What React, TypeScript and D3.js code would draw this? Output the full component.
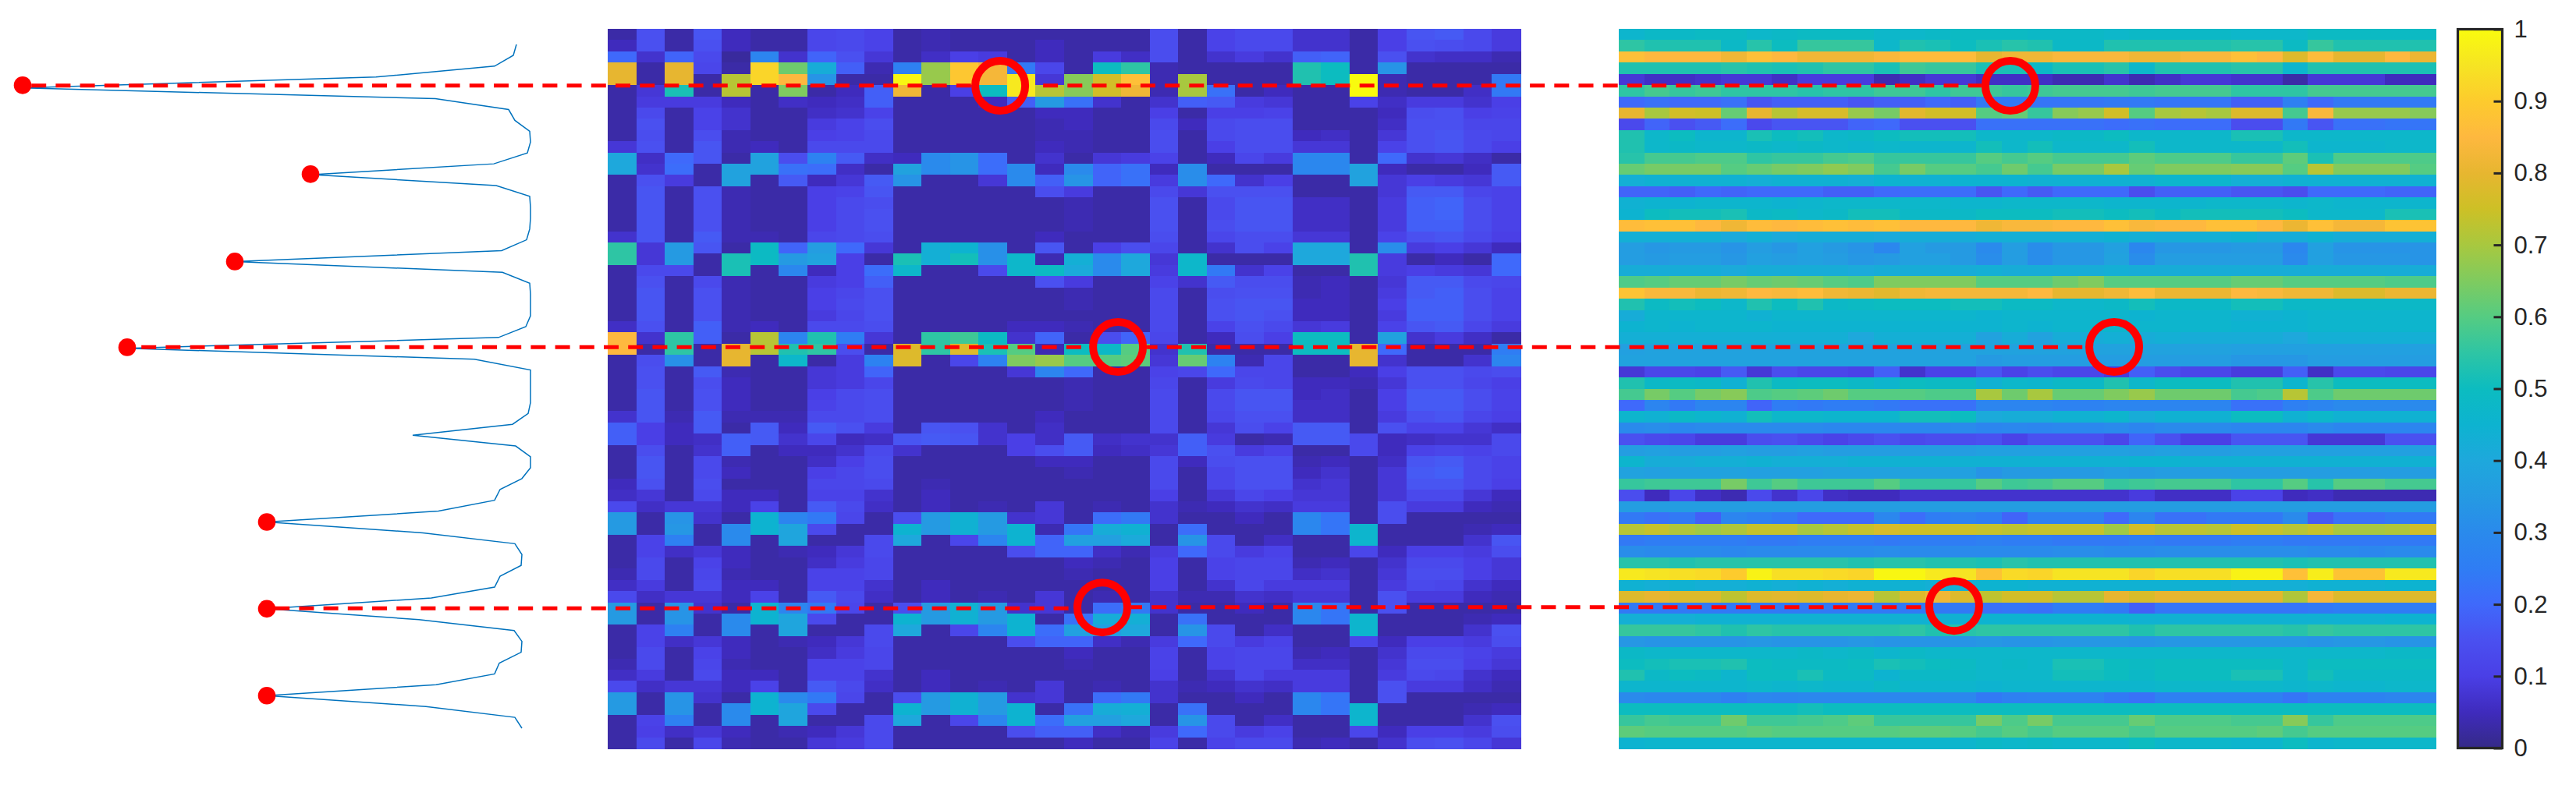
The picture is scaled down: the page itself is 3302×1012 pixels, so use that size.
import * as d3 from "d3";
import { useEffect, useRef } from "react";

// colour map
const colorStops = [0, 0.05, 0.1, 0.15, 0.2, 0.25, 0.3, 0.35, 0.4, 0.45, 0.5, 0.55, 0.6, 0.65, 0.7, 0.75, 0.8, 0.85, 0.9, 0.95, 1];
const colorValues = ["#352a87", "#3f2bbd", "#4a3fe6", "#4a50f0", "#3f69fb", "#2f7df4", "#2a8aec", "#259ae2", "#1ea8dc", "#0db3d0", "#0cbcc0", "#2ec5a4", "#55cc82", "#7fcb5f", "#a8c83f", "#cdc026", "#e7b630", "#feb83f", "#fdcb2d", "#f6e423", "#f9fb0e"];
const colorbarTicks = [0, 0.1, 0.2, 0.3, 0.4, 0.5, 0.6, 0.7, 0.8, 0.9, 1];

// left heat map, hundredths
const heatLeft = [
  [3,15,3,16,5,3,3,12,13,11,3,4,3,3,3,3,3,3,3,14,3,11,13,13,7,7,3,10,16,17,13,9],
  [5,15,3,15,5,3,3,12,13,11,3,4,3,3,3,5,3,3,3,14,3,11,13,13,7,7,3,10,15,14,13,9],
  [20,7,19,13,2,28,7,19,15,8,3,6,10,9,3,5,3,9,6,14,3,7,9,7,18,19,3,15,7,6,6,4],
  [80,3,80,12,3,92,63,42,18,4,26,68,89,83,24,12,3,50,55,4,3,3,3,3,53,50,3,33,3,3,3,3],
  [80,3,80,3,72,92,85,33,3,3,99,68,89,83,96,8,66,76,87,4,70,3,3,3,53,50,100,4,3,3,3,24],
  [3,8,52,3,72,3,65,3,5,18,82,3,10,50,96,72,66,76,82,4,70,22,3,5,3,3,100,4,3,3,6,24],
  [3,9,9,9,5,3,6,5,6,18,3,3,3,5,18,35,22,7,3,7,18,17,9,8,3,3,11,6,9,9,7,10],
  [3,13,3,11,7,3,3,6,7,11,3,3,3,3,3,5,5,3,3,10,3,10,10,11,3,3,3,5,14,15,10,11],
  [3,15,3,11,7,3,3,9,11,14,3,3,3,3,3,4,5,3,3,13,5,13,14,14,3,3,3,6,15,15,12,12],
  [3,14,3,14,4,3,3,10,11,13,3,3,3,3,3,4,4,3,3,14,3,13,14,14,5,6,3,8,15,16,13,12],
  [8,15,3,16,4,5,3,13,13,13,3,3,3,3,3,5,4,3,3,14,3,10,14,14,8,8,3,11,15,16,13,10],
  [40,6,20,16,3,38,14,27,17,6,5,30,33,21,3,7,3,8,9,11,3,5,12,9,29,29,3,20,7,8,6,3],
  [40,7,21,3,38,38,22,21,6,3,38,30,33,21,30,5,30,19,22,5,31,3,3,3,29,29,38,5,3,3,5,17],
  [3,15,9,3,38,3,17,5,8,17,33,3,3,8,30,18,33,19,22,9,31,20,7,10,3,3,38,8,10,9,8,17],
  [3,16,3,15,4,3,3,10,11,16,3,3,3,3,3,14,9,3,3,13,8,15,15,15,3,3,3,8,17,17,12,11],
  [3,16,3,15,4,3,3,10,13,14,3,3,3,3,3,3,4,3,3,15,3,13,16,16,6,6,3,9,18,19,14,11],
  [3,16,3,15,4,3,3,10,13,15,3,3,3,3,3,3,4,3,3,15,3,13,16,16,6,6,3,9,18,19,14,11],
  [3,16,3,15,4,3,3,10,13,15,3,3,3,3,3,3,4,3,3,15,3,14,16,16,6,6,3,9,18,18,14,11],
  [7,16,3,17,4,4,3,12,13,14,3,3,3,3,3,5,3,3,3,14,3,12,14,14,8,8,3,11,15,16,13,10],
  [55,8,35,16,3,49,19,36,20,8,3,43,45,32,3,16,3,10,14,12,3,7,14,11,40,40,3,31,9,10,8,5],
  [55,8,35,3,52,49,35,38,10,3,52,43,51,32,47,4,43,30,40,8,47,3,3,3,40,40,53,9,3,5,3,20],
  [3,13,13,3,52,3,29,5,10,21,47,3,3,13,47,49,41,30,40,9,47,24,7,11,3,3,53,9,10,9,8,20],
  [3,15,3,13,4,3,3,9,10,18,3,3,3,3,3,15,9,3,3,11,7,17,14,14,4,5,3,8,17,17,13,12],
  [3,16,3,15,4,3,3,10,12,15,3,3,3,3,3,3,4,3,3,13,3,14,15,15,4,5,3,9,17,18,14,11],
  [3,16,3,15,4,3,3,10,13,15,3,3,3,3,3,3,4,3,3,13,3,15,16,16,5,5,3,10,18,18,14,11],
  [3,16,3,15,4,3,3,9,12,15,3,3,3,3,3,3,3,3,3,13,3,15,16,15,5,5,3,9,18,18,14,11],
  [6,15,3,18,4,5,3,13,13,14,3,3,3,3,5,5,4,3,3,13,3,11,15,13,8,9,3,11,16,17,12,9],
  [85,7,55,18,3,72,28,53,25,8,3,55,57,49,7,19,3,14,19,12,3,5,14,10,50,50,3,38,7,9,6,3],
  [85,3,55,3,80,72,53,55,14,3,78,55,78,52,60,4,50,48,60,7,53,3,3,3,50,50,80,20,3,3,3,25],
  [3,14,32,3,80,3,47,3,9,27,78,3,12,27,65,68,60,60,61,8,62,27,4,12,3,3,80,7,3,3,7,28],
  [3,15,3,17,4,3,3,8,9,19,3,3,3,3,8,28,20,3,3,11,12,20,12,12,3,3,5,10,15,15,13,14],
  [3,15,3,14,5,3,3,8,9,12,3,3,3,3,3,3,4,3,3,12,3,9,13,12,5,5,4,8,15,15,12,10],
  [3,16,3,15,5,3,3,10,13,14,3,3,3,3,3,3,4,3,3,13,3,13,16,16,5,6,3,10,17,17,14,11],
  [3,16,3,15,5,3,3,11,13,14,3,3,3,3,3,3,4,3,3,13,3,13,16,16,6,6,3,10,17,17,14,11],
  [7,16,4,17,4,4,4,13,13,14,3,3,3,3,3,5,3,3,3,13,3,12,15,15,6,6,3,9,15,16,12,10],
  [18,10,5,17,3,17,5,17,15,9,3,16,15,7,3,6,3,3,3,13,3,8,14,11,17,17,3,15,11,11,8,6],
  [18,10,5,6,18,17,7,12,5,6,16,17,16,7,10,6,17,6,7,7,18,9,3,4,17,17,13,5,6,7,7,13],
  [3,14,3,7,18,3,5,5,7,13,7,3,3,3,10,14,17,5,6,8,18,15,9,11,3,3,13,5,11,12,11,13],
  [3,16,3,13,4,3,3,6,10,14,3,3,3,3,3,5,5,3,3,13,5,14,15,15,4,5,3,6,16,17,13,11],
  [3,16,3,13,5,3,3,10,12,14,3,3,3,3,3,3,4,3,3,13,3,12,15,15,5,7,3,8,17,18,13,11],
  [5,15,3,14,3,3,3,12,12,13,3,4,3,3,3,3,3,3,3,13,3,12,15,15,7,8,3,8,16,16,13,10],
  [6,8,3,13,5,5,3,11,11,7,3,5,3,3,3,3,3,3,3,10,3,8,12,10,8,8,3,8,13,13,8,5],
  [13,6,8,8,5,11,3,17,13,6,3,5,3,4,3,8,3,4,3,7,4,5,7,6,9,9,3,14,9,9,5,4],
  [35,3,33,7,3,45,28,24,12,3,14,35,44,35,7,8,3,21,24,7,3,3,5,3,29,23,3,14,3,3,3,3],
  [35,3,34,3,30,45,39,13,3,3,45,35,44,35,45,4,23,42,44,3,21,3,3,3,29,23,46,3,3,3,4,5],
  [3,11,26,3,30,3,39,3,3,13,40,3,12,28,45,19,37,37,41,3,33,13,3,6,3,3,46,3,3,3,7,16],
  [3,11,6,8,5,3,4,5,8,13,3,3,3,3,14,19,19,6,4,9,20,13,9,11,3,3,12,5,10,10,9,14],
  [3,13,3,11,5,3,3,6,9,12,3,3,3,3,3,3,5,4,3,10,3,11,12,12,4,5,3,7,13,13,10,8],
  [4,13,3,12,4,3,3,11,11,12,3,3,3,3,3,3,4,3,3,10,3,11,12,12,6,7,3,8,14,14,10,8],
  [6,9,3,13,5,5,3,11,11,7,3,5,3,3,3,3,3,3,3,10,3,7,12,9,9,9,3,9,13,12,7,5],
  [13,6,8,8,5,11,3,17,13,6,3,5,3,4,3,8,3,4,3,7,4,4,7,6,8,8,3,15,9,9,5,4],
  [35,3,33,7,3,45,28,24,12,3,14,35,44,35,7,8,3,21,24,7,3,3,5,3,29,23,3,15,3,3,3,3],
  [35,3,33,3,30,45,39,13,3,3,45,35,44,35,45,3,22,42,43,3,22,3,3,3,29,23,46,3,3,3,4,5],
  [3,11,26,3,30,3,39,3,3,13,40,3,12,28,45,21,37,37,40,3,33,13,3,6,3,3,46,3,3,3,7,15],
  [3,11,6,8,5,3,4,5,8,13,3,3,3,3,14,19,19,6,4,9,20,13,9,11,3,3,12,5,10,10,9,14],
  [3,13,3,11,5,3,3,6,9,12,3,3,3,3,3,3,5,3,3,11,3,11,12,12,4,5,3,7,13,13,11,9],
  [4,13,3,12,4,3,3,11,11,12,3,3,3,3,3,3,4,3,3,11,3,11,12,12,6,6,3,8,14,14,10,8],
  [6,9,3,13,5,5,3,11,11,7,3,5,3,3,3,3,3,3,3,10,3,7,12,9,9,9,3,9,13,12,7,5],
  [13,6,8,8,5,11,3,17,13,6,3,5,3,4,3,8,3,4,3,7,4,5,7,6,9,9,3,15,9,9,6,4],
  [35,3,33,7,3,45,30,24,12,3,14,35,44,35,7,8,3,21,24,7,3,3,5,3,29,23,3,15,3,3,3,3],
  [35,3,33,3,30,45,39,13,3,3,45,35,44,35,45,3,22,42,43,3,22,3,3,3,29,23,46,3,3,3,4,5],
  [3,11,26,3,30,3,39,3,3,13,40,3,12,28,45,21,37,37,40,3,33,13,3,6,3,3,46,3,3,3,7,15],
  [3,10,6,8,5,3,4,5,8,13,3,3,3,3,14,18,18,6,4,9,20,13,9,11,3,3,12,5,10,10,9,14],
  [3,13,3,12,4,3,3,8,9,13,3,3,3,3,3,3,5,3,3,11,3,11,13,13,4,5,3,7,14,15,12,8],
];

// right heat map, hundredths
const heatRight = [
  [46,48,48,49,49,47,48,49,49,49,47,47,48,49,49,49,48,48,48,47,48,48,48,48,47,47,47,49,49,49,49,49],
  [55,53,53,53,48,54,50,56,56,56,47,53,52,50,52,54,53,48,48,53,53,53,53,53,54,54,49,56,53,53,53,53],
  [87,85,85,85,82,87,85,82,82,82,84,86,86,86,80,82,82,84,84,84,82,82,84,84,87,85,78,86,80,80,85,81],
  [53,53,53,53,54,53,52,53,55,55,52,57,56,56,52,52,48,52,52,54,47,53,53,53,54,54,46,53,53,53,53,52],
  [8,6,6,7,8,8,6,9,9,9,4,6,8,8,6,6,6,4,4,7,4,6,8,8,7,7,3,8,8,8,5,5],
  [55,58,56,57,55,55,55,54,55,55,57,57,55,57,57,56,57,58,58,58,57,58,58,58,55,55,55,58,58,58,58,58],
  [20,22,20,20,22,16,18,18,18,16,18,18,20,18,24,24,23,23,23,24,24,23,23,23,18,18,26,20,24,24,24,24],
  [80,70,76,75,62,80,72,77,77,68,64,79,76,76,60,62,56,66,68,76,60,70,72,70,78,78,58,84,68,68,68,66],
  [13,19,15,17,21,13,16,16,16,19,20,15,15,15,22,22,22,22,22,21,22,21,21,21,14,14,24,16,22,22,23,23],
  [53,47,50,46,46,52,50,51,47,48,50,51,51,51,47,47,47,48,48,50,47,47,47,47,52,52,47,47,47,47,47,47],
  [53,47,48,47,47,48,47,48,47,46,47,46,46,46,51,47,51,47,47,47,51,47,47,47,47,47,51,46,46,46,47,47],
  [54,58,58,59,59,55,56,56,58,59,56,56,56,56,60,58,60,58,58,58,61,59,59,59,56,56,61,52,59,59,59,59],
  [62,64,64,64,60,62,64,65,67,65,58,64,60,60,58,63,58,64,64,70,62,65,65,65,66,66,60,72,65,65,65,60],
  [43,44,44,44,44,43,44,44,44,43,45,44,44,45,45,45,44,44,44,44,44,46,46,46,43,43,44,44,44,44,44,44],
  [19,19,18,20,19,20,20,20,18,18,20,21,21,21,16,20,17,20,20,20,14,18,18,18,16,16,14,20,20,20,19,19],
  [44,45,45,46,46,46,45,46,47,47,47,47,47,46,46,47,47,47,47,46,46,46,46,47,47,47,46,47,46,46,46,46],
  [45,50,51,51,52,48,49,47,48,51,51,48,48,48,50,50,50,51,51,50,51,49,51,51,51,51,50,47,47,47,52,52],
  [86,87,87,85,82,86,85,86,87,86,87,85,85,85,82,84,84,85,85,87,84,85,85,87,87,85,81,87,83,83,88,88],
  [43,43,43,43,41,43,41,42,42,42,41,42,42,42,43,43,43,43,43,44,43,42,43,43,44,42,42,44,42,42,42,43],
  [36,34,35,35,33,36,34,37,35,33,29,37,35,35,30,36,31,34,34,37,29,34,34,34,35,35,29,37,33,33,33,33],
  [36,35,36,36,34,37,36,37,36,34,35,37,37,35,31,36,31,34,34,38,31,36,36,36,36,36,30,37,34,34,34,33],
  [42,42,42,42,41,42,42,42,42,41,42,42,42,42,43,42,42,42,42,43,42,42,42,42,42,42,42,42,42,42,42,42],
  [59,60,62,62,64,62,63,62,60,59,65,65,65,65,60,60,60,63,65,60,60,60,60,60,62,62,60,60,60,60,59,59],
  [88,84,84,81,82,85,84,86,82,81,79,82,83,83,83,83,85,80,80,82,86,81,81,81,85,84,82,82,78,78,81,81],
  [53,49,51,50,47,53,50,53,48,49,50,50,50,51,51,49,49,47,47,48,51,48,48,48,51,51,48,48,48,48,48,48],
  [42,46,46,46,46,44,46,46,46,46,46,46,46,46,45,46,46,46,46,46,45,46,46,46,44,44,45,46,46,46,46,46],
  [45,46,45,46,46,46,45,45,45,45,45,45,45,45,45,46,45,46,46,46,46,46,46,46,45,45,45,46,46,46,46,46],
  [43,43,43,43,43,43,43,43,43,40,43,43,43,43,38,42,38,42,42,43,42,43,42,42,42,42,40,43,43,43,43,43],
  [37,38,38,38,38,38,38,38,38,38,38,38,38,38,38,38,38,38,38,38,38,38,38,38,37,37,37,37,37,37,37,37],
  [38,38,38,38,38,38,38,38,38,38,38,38,38,38,35,36,36,36,36,36,36,36,36,36,34,34,34,36,36,36,36,36],
  [8,12,12,11,17,8,14,12,12,11,18,7,11,11,16,11,14,12,12,9,18,14,12,12,9,9,18,6,13,13,12,12],
  [53,48,49,48,44,53,49,50,50,48,46,50,49,49,44,47,46,48,48,53,47,50,50,50,53,53,46,54,50,50,50,50],
  [58,64,60,64,66,59,60,61,63,60,60,60,59,59,70,63,70,62,62,65,68,63,63,63,58,59,72,59,63,63,63,63],
  [20,28,24,28,28,19,25,24,25,25,24,22,22,22,28,28,28,27,27,28,28,28,28,28,22,22,26,28,30,30,30,30],
  [46,44,48,46,44,51,47,47,46,46,46,51,51,50,41,42,42,44,44,46,42,44,44,44,50,50,44,47,44,44,44,44],
  [30,31,29,30,30,30,30,30,29,29,29,29,29,30,28,29,28,29,29,30,28,30,30,30,28,28,28,30,28,28,28,28],
  [15,13,12,9,9,14,15,13,11,13,15,13,14,14,15,11,15,15,15,12,19,15,10,10,16,16,16,8,8,8,15,15],
  [36,37,36,36,37,36,36,37,36,36,36,36,36,36,37,37,37,37,37,37,36,37,36,36,37,37,37,37,37,37,37,37],
  [46,42,42,43,43,44,43,43,43,44,44,44,44,44,44,44,44,44,44,44,45,45,44,44,44,44,44,44,44,44,44,44],
  [38,37,38,38,38,37,37,37,38,38,38,38,38,37,33,35,35,35,35,36,35,36,36,36,36,36,36,36,36,36,36,36],
  [56,57,57,57,64,57,60,57,57,57,60,56,56,56,60,57,58,60,60,56,57,58,58,58,55,55,60,54,60,60,58,58],
  [14,5,12,6,4,13,7,12,6,5,5,7,7,7,7,7,7,7,7,7,9,6,6,6,11,11,5,6,4,4,4,4],
  [36,36,36,36,36,36,36,36,36,36,36,36,36,36,36,36,36,36,36,36,36,36,36,36,36,36,36,36,36,36,36,36],
  [24,22,24,18,28,26,24,20,20,20,29,21,25,27,25,19,26,26,26,20,28,22,22,24,24,24,30,17,22,22,24,24],
  [72,74,71,69,71,74,74,70,72,74,77,75,75,75,74,73,74,74,74,69,76,72,73,72,75,74,72,74,70,70,71,76],
  [24,25,25,25,25,24,24,25,25,25,24,25,25,25,26,25,25,24,24,24,25,24,24,24,25,25,24,24,24,24,24,24],
  [31,30,30,30,29,30,30,30,30,30,31,30,30,30,30,30,30,31,31,30,30,31,31,31,31,31,31,30,30,29,30,30],
  [54,54,53,54,54,54,54,54,54,53,54,54,53,53,52,54,53,53,53,53,53,53,53,53,53,53,52,53,53,53,53,53],
  [96,95,94,93,90,98,94,94,93,92,99,99,96,95,88,93,92,95,95,95,92,94,94,94,98,98,87,97,88,88,96,96],
  [44,43,44,43,43,44,43,44,43,44,44,44,43,43,45,45,44,44,44,44,44,44,44,44,43,43,43,44,44,44,45,45],
  [78,80,78,78,73,78,79,78,80,81,72,78,82,78,73,76,76,72,72,80,77,80,79,79,79,79,71,83,78,78,78,78],
  [24,24,24,24,24,24,24,24,24,24,24,24,24,24,22,23,22,25,25,24,18,23,23,23,23,23,23,24,25,25,25,25],
  [43,43,43,44,44,44,44,44,44,44,44,44,44,44,45,45,45,45,45,45,44,44,44,44,44,44,44,44,44,44,45,45],
  [56,56,56,55,53,55,54,54,54,54,54,55,53,54,55,55,55,55,55,55,53,55,55,55,55,55,54,56,55,55,55,55],
  [34,33,33,33,33,34,33,33,33,34,33,33,33,33,34,33,33,34,34,34,33,34,34,34,34,34,34,33,34,34,33,33],
  [48,47,47,47,47,47,47,48,47,48,46,48,47,47,47,47,47,47,47,47,47,47,47,47,47,47,47,47,47,47,48,48],
  [50,51,52,52,53,50,49,49,49,50,52,51,50,49,47,48,47,52,52,50,49,50,50,50,50,50,47,50,50,50,50,50],
  [53,48,50,49,46,50,50,52,49,49,45,48,48,48,47,47,47,51,51,50,48,50,50,50,52,52,47,51,48,48,48,48],
  [46,46,46,46,46,47,46,47,46,46,48,46,46,46,45,46,46,46,46,46,46,47,47,47,47,47,46,47,46,46,47,47],
  [30,29,29,29,26,29,28,29,29,29,29,29,29,29,24,26,27,27,27,24,22,26,26,26,26,26,23,27,27,27,28,28],
  [50,50,50,50,50,50,50,51,50,50,50,50,50,50,50,50,50,50,50,50,50,50,50,50,50,50,50,50,50,50,50,50],
  [56,58,57,57,63,57,57,58,59,61,56,56,56,56,64,59,64,58,58,58,62,59,59,59,58,58,66,56,59,59,59,59],
  [61,60,60,60,60,61,60,60,60,60,60,61,61,60,58,60,58,60,60,60,58,60,60,60,60,61,58,60,60,60,60,60],
  [45,46,46,46,46,46,46,46,46,46,46,46,46,46,48,47,48,47,47,47,50,47,47,47,46,46,50,46,47,47,47,47],
];

// blue profile curve, one value per heat map row
const profileValues = [
  633, 629, 605, 453, 0, 529, 623, 631, 650, 651, 647, 604, 371, 607, 650, 651,
  651, 650, 646, 614, 272, 615, 650, 651, 651, 651, 645, 610, 134, 579, 651, 651,
  651, 651, 648, 628, 500, 632, 651, 651, 640, 612, 605, 533, 313, 513, 631, 640,
  639, 612, 605, 524, 313, 508, 630, 640, 639, 611, 605, 530, 313, 517, 631, 640,
];

// red markers: dots on the profile, circles on both heat maps, in data units
const dotValues = [0, 369, 272, 134, 313, 313, 313];
const dotRows = [3.76, 11.95, 20, 27.9, 44, 52, 60];
const leftCircleCols = [13.76, 17.89, 17.34];
const leftCircleRows = [5.06, 28.29, 51.46];
const rightCircleCols = [15.34, 19.41, 13.14];
const rightCircleRows = [5.06, 28.29, 51.32];
const linkDots = [0, 3, 5];
const linkRowsA = [5.04, 28.3, 51.54];
const linkRowsB = [5.04, 28.3, 51.44];
const linkOffsetA = [20, 13, 21];
const linkOffsetB = [0, 5.5, 5];
const linkPadB = [18, 0, 0];

export default function App() {
  const ref = useRef<SVGSVGElement>(null);

  useEffect(() => {
    const svg = d3.select(ref.current);
    svg.selectAll("*").remove();

    const color = d3.scaleLinear<string>().domain(colorStops).range(colorValues).clamp(true);
    const rowIdx = d3.range(64);
    const colIdx = d3.range(32);

    const yBand = d3.scaleBand<number>().domain(rowIdx).range([37, 960]);
    const xLeft = d3.scaleBand<number>().domain(colIdx).range([779, 1949]);
    const xRight = d3.scaleBand<number>().domain(colIdx).range([2075, 3122]);

    const rowPos = d3.scaleLinear().domain([0, 64]).range([37, 960]);
    const colLeft = d3.scaleLinear().domain([0, 32]).range([779, 1949]);
    const colRight = d3.scaleLinear().domain([0, 32]).range([2075, 3122]);

    const drawHeat = (rows: number[][], x: d3.ScaleBand<number>) => {
      const g = svg.append("g").attr("shape-rendering", "crispEdges");
      rows.forEach((row, r) => {
        g.selectAll(null)
          .data(row)
          .enter()
          .append("rect")
          .attr("x", (_, c) => x(c)!)
          .attr("y", yBand(r)!)
          .attr("width", x.bandwidth() + 0.5)
          .attr("height", yBand.bandwidth() + 0.5)
          .attr("fill", (d) => color(d / 100));
      });
    };
    drawHeat(heatLeft, xLeft);
    drawHeat(heatRight, xRight);

    // profile curve
    const profX = d3.scaleLinear().domain([0, 651]).range([29, 680]);
    const profY = d3.scaleLinear().domain([0, 63]).range([57, 934]);
    const line = d3.line<number>().x((d) => profX(d)).y((_, i) => profY(i));
    svg
      .append("path")
      .attr("d", line(profileValues))
      .attr("fill", "none")
      .attr("stroke", "#0072bd")
      .attr("stroke-width", 1.5);

    // dashed links: dot -> left circle, left circle -> right circle
    const circleR = 32;
    const circleEdge = 37;
    const dash = "19 12.2";
    linkDots.forEach((dot, i) => {
      const xl = colLeft(leftCircleCols[i]);
      const xr = colRight(rightCircleCols[i]);
      svg
        .append("line")
        .attr("x1", profX(dotValues[dot]))
        .attr("x2", xl - circleEdge)
        .attr("y1", rowPos(linkRowsA[i]))
        .attr("y2", rowPos(linkRowsA[i]))
        .attr("stroke", "#ff0000")
        .attr("stroke-width", 5)
        .attr("stroke-dasharray", dash)
        .attr("stroke-dashoffset", linkOffsetA[i]);
      svg
        .append("line")
        .attr("x1", xl + circleEdge + linkPadB[i])
        .attr("x2", xr - circleEdge)
        .attr("y1", rowPos(linkRowsB[i]))
        .attr("y2", rowPos(linkRowsB[i]))
        .attr("stroke", "#ff0000")
        .attr("stroke-width", 5)
        .attr("stroke-dasharray", dash)
        .attr("stroke-dashoffset", linkOffsetB[i]);
    });

    svg
      .append("g")
      .selectAll("circle")
      .data(dotValues)
      .enter()
      .append("circle")
      .attr("cx", (d) => profX(d))
      .attr("cy", (_, i) => profY(dotRows[i]))
      .attr("r", 11.3)
      .attr("fill", "#ff0000");

    const rings = [
      ...leftCircleCols.map((c, i) => [colLeft(c), rowPos(leftCircleRows[i])]),
      ...rightCircleCols.map((c, i) => [colRight(c), rowPos(rightCircleRows[i])]),
    ];
    svg
      .append("g")
      .selectAll("circle")
      .data(rings)
      .enter()
      .append("circle")
      .attr("cx", (d) => d[0])
      .attr("cy", (d) => d[1])
      .attr("r", circleR)
      .attr("fill", "none")
      .attr("stroke", "#ff0000")
      .attr("stroke-width", 10);

    // colour bar
    const defs = svg.append("defs");
    const grad = defs
      .append("linearGradient")
      .attr("id", "cbar")
      .attr("x1", 0)
      .attr("y1", 1)
      .attr("x2", 0)
      .attr("y2", 0);
    grad
      .selectAll("stop")
      .data(colorStops)
      .enter()
      .append("stop")
      .attr("offset", (d) => d)
      .attr("stop-color", (_, i) => colorValues[i]);

    const cbY = d3.scaleLinear().domain([0, 1]).range([959.5, 37.5]);
    svg
      .append("rect")
      .attr("x", 3150.5)
      .attr("y", 37.5)
      .attr("width", 57)
      .attr("height", 922)
      .attr("fill", "url(#cbar)")
      .attr("stroke", "#262626")
      .attr("stroke-width", 3.2);

    const axis = d3
      .axisRight(cbY)
      .tickValues(colorbarTicks)
      .tickFormat((d) => d3.format("~g")(d as number))
      .tickSize(-11)
      .tickPadding(15);
    const ag = svg.append("g").attr("transform", "translate(3207.5,0)").call(axis);
    ag.select(".domain").remove();
    ag.selectAll("line").attr("stroke", "#262626").attr("stroke-width", 3);
    ag.selectAll("text")
      .attr("fill", "#262626")
      .style("font-family", "'Liberation Sans', Arial, sans-serif")
      .style("font-size", "31px");
  }, []);

  return (
    <svg
      ref={ref}
      width={3302}
      height={1012}
      style={{ position: "absolute", left: 0, top: 0, background: "#fff" }}
    />
  );
}
